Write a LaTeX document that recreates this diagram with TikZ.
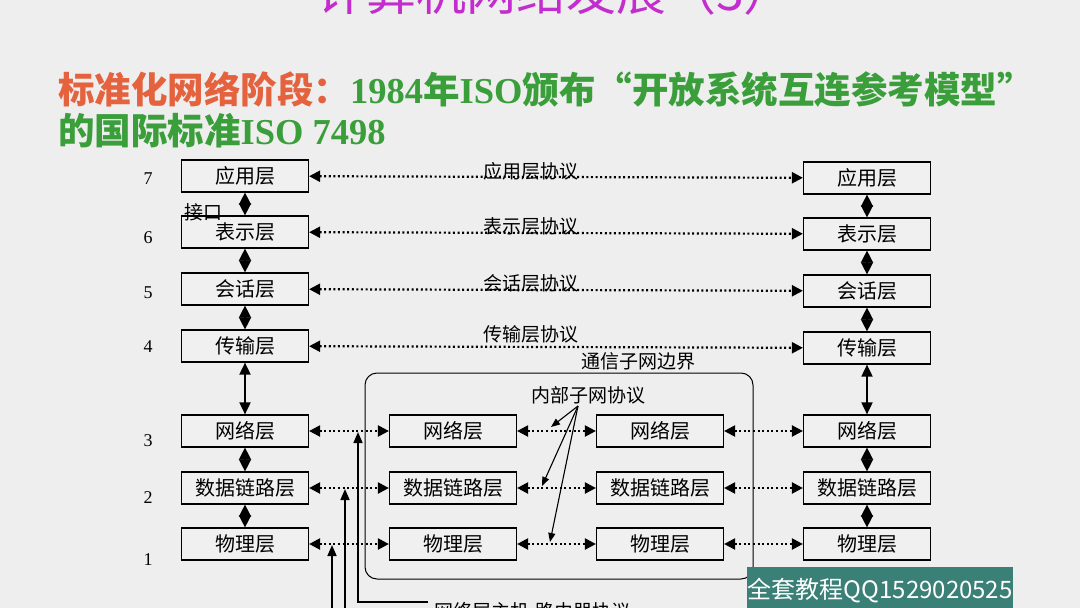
\documentclass[tikz,border=0pt]{standalone}
\usepackage{fontspec}
\setmainfont{Liberation Serif}
\newfontfamily\cjk{Noto Sans CJK SC}
\usetikzlibrary{arrows.meta}

\definecolor{bggray}{RGB}{238,238,238}
\definecolor{boxgray}{RGB}{240,240,240}
\definecolor{titlepurple}{RGB}{195,45,205}
\definecolor{stageorange}{RGB}{228,98,62}
\definecolor{stagegreen}{RGB}{58,158,58}
\definecolor{markteal}{RGB}{58,128,118}

\tikzset{
	layer/.style={draw, line width=1.2pt, fill=boxgray, minimum width=127pt, minimum height=32pt, inner sep=0pt, font=\cjk\fontsize{20}{20}\selectfont},
	note/.style={inner sep=0pt, font=\cjk\fontsize{19}{19}\selectfont},
	num/.style={inner sep=0pt, font=\fontsize{18}{18}\selectfont},
	peer/.style={line width=2.2pt, dash pattern=on 2pt off 2.6pt, {Triangle[length=11pt,width=11pt]}-{Triangle[length=11pt,width=11pt]}},
	iface/.style={line width=1.4pt, {Triangle[length=12pt,width=12pt]}-{Triangle[length=12pt,width=12pt]}},
	updown/.style={line width=1.8pt, {Triangle[length=12pt,width=11pt]}-{Triangle[length=12pt,width=11pt]}},
	inner/.style={line width=1.1pt, -{Triangle[length=9pt,width=7pt]}},
	host/.style={line width=1.6pt, -{Triangle[length=11pt,width=9pt]}}
}

\begin{document}
\begin{tikzpicture}[x=1pt, y=-1pt]

		\fill[bggray] (0,0) rectangle (1080,608);
		\useasboundingbox (0,0) rectangle (1080,608);
		\clip (0,0) rectangle (1080,608);

		\node[anchor=base, inner sep=0pt, text=titlepurple, font=\cjk\fontsize{50}{50}\selectfont] (title) at (555,10) {计算机网络发展（3）};

		\node[anchor=base west, inner sep=0pt, font=\cjk\bfseries\fontsize{36.5}{36.5}\selectfont] (stage) at (58,103) {\textcolor{stageorange}{标准化网络阶段：}\textcolor{stagegreen}{{\rmfamily 1984}年{\rmfamily ISO}颁布“开放系统互连参考模型”}};
		\node[anchor=base west, inner sep=0pt, text=stagegreen, font=\cjk\bfseries\fontsize{36.5}{36.5}\selectfont] (std) at (58,144) {的国际标准{\rmfamily ISO 7498}};

		\node[draw, line width=1pt, rounded corners=12pt, minimum width=388pt, minimum height=206pt] (subnet) at (559,476) {};
		\node[note] (edge) at (638,361) {通信子网边界};

		\node[layer] (l7) at (245,176) {应用层};
		\node[layer] (l6) at (245,232) {表示层};
		\node[layer] (l5) at (245,289) {会话层};
		\node[layer] (l4) at (245,346) {传输层};
		\node[layer] (l3) at (245,431) {网络层};
		\node[layer] (l2) at (245,488) {数据链路层};
		\node[layer] (l1) at (245,544) {物理层};

		\node[layer] (ma3) at (453,431) {网络层};
		\node[layer] (ma2) at (453,488) {数据链路层};
		\node[layer] (ma1) at (453,544) {物理层};

		\node[layer] (mb3) at (660,431) {网络层};
		\node[layer] (mb2) at (660,488) {数据链路层};
		\node[layer] (mb1) at (660,544) {物理层};

		\node[layer] (r7) at (867,178) {应用层};
		\node[layer] (r6) at (867,234) {表示层};
		\node[layer] (r5) at (867,291) {会话层};
		\node[layer] (r4) at (867,348) {传输层};
		\node[layer] (r3) at (867,431) {网络层};
		\node[layer] (r2) at (867,488) {数据链路层};
		\node[layer] (r1) at (867,544) {物理层};

		\node[num] (n7) at (148,179) {7};
		\node[num] (n6) at (148,238) {6};
		\node[num] (n5) at (148,293) {5};
		\node[num] (n4) at (148,347) {4};
		\node[num] (n3) at (148,441) {3};
		\node[num] (n2) at (148,498) {2};
		\node[num] (n1) at (148,560) {1};

		\node[note] (jk) at (203,212) {接口};

		\node[note] (p7) at (531,171) {应用层协议};
		\node[note] (p6) at (531,226) {表示层协议};
		\node[note] (p5) at (531,283) {会话层协议};
		\node[note] (p4) at (531,334) {传输层协议};
		\node[note] (ipl) at (588,395) {内部子网协议};

		\draw[iface] (l7) -- (l6);
		\draw[iface] (l6) -- (l5);
		\draw[iface] (l5) -- (l4);
		\draw[updown] (l4) -- (l3);
		\draw[iface] (l3) -- (l2);
		\draw[iface] (l2) -- (l1);

		\draw[iface] (r7) -- (r6);
		\draw[iface] (r6) -- (r5);
		\draw[iface] (r5) -- (r4);
		\draw[updown] (r4) -- (r3);
		\draw[iface] (r3) -- (r2);
		\draw[iface] (r2) -- (r1);

		\draw[peer] (l7) -- (r7);
		\draw[peer] (l6) -- (r6);
		\draw[peer] (l5) -- (r5);
		\draw[peer] (l4) -- (r4);

		\draw[peer] (l3) -- (ma3);
		\draw[peer] (ma3) -- (mb3);
		\draw[peer] (mb3) -- (r3);
		\draw[peer] (l2) -- (ma2);
		\draw[peer] (ma2) -- (mb2);
		\draw[peer] (mb2) -- (r2);
		\draw[peer] (l1) -- (ma1);
		\draw[peer] (ma1) -- (mb1);
		\draw[peer] (mb1) -- (r1);

		\coordinate (ip) at (578,406);
		\coordinate (ip3) at (551,427);
		\coordinate (ip2) at (542,486);
		\coordinate (ip1) at (550,542);
		\draw[inner] (ip) -- (ip3);
		\draw[inner] (ip) -- (ip2);
		\draw[inner] (ip) -- (ip1);

		\coordinate (hr3) at (358,432);
		\coordinate (hr2) at (345,489);
		\coordinate (hr1) at (332,545);
		\coordinate (hb3) at (358,602);
		\coordinate (hb2) at (345,620);
		\coordinate (hb1) at (332,620);
		\coordinate (hl) at (428,602);
		\node[note, anchor=west] (hrp) at (434,611) {网络层主机-路由器协议};
		\draw[host] (hb1) -- (hr1);
		\draw[host] (hb2) -- (hr2);
		\draw[host] (hl) -- (hb3) -- (hr3);

		\node[fill=markteal, text=white, anchor=north west, minimum width=266pt, minimum height=46pt, inner sep=0pt, font=\cjk\fontsize{24}{24}\selectfont] (qq) at (747,567) {全套教程QQ1529020525};

\end{tikzpicture}
\end{document}
